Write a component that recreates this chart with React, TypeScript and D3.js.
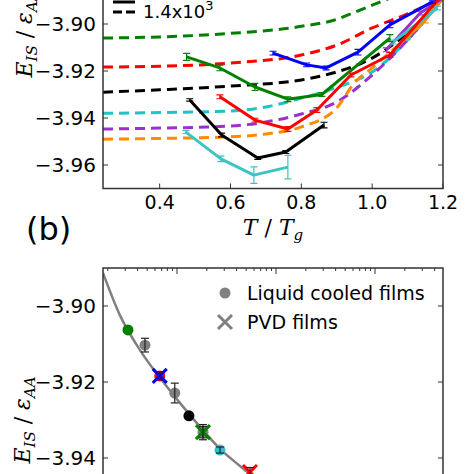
import React, { useEffect, useRef } from "react";
import * as d3 from "d3";

type Pt = [number, number];
type ErrPt = [number, number, number];

// panel (a): liquid-cooled films (dashed), T/Tg vs E_IS
const dashGreen: Pt[] = [[0.24, -3.906], [0.4, -3.9055], [0.6, -3.904], [0.8, -3.901], [0.9, -3.898], [0.95, -3.895], [1.0, -3.892], [1.1, -3.886], [1.2, -3.88]];
const dashRed: Pt[] = [[0.24, -3.9183], [0.4, -3.918], [0.6, -3.9166], [0.8, -3.9132], [0.9, -3.909], [1.0, -3.9017], [1.1, -3.8957], [1.2, -3.889]];
const dashBlack: Pt[] = [[0.24, -3.929], [0.4, -3.928], [0.6, -3.9264], [0.8, -3.9238], [0.9, -3.9204], [1.0, -3.9145], [1.1, -3.9038], [1.2, -3.889]];
const dashCyan: Pt[] = [[0.24, -3.938], [0.4, -3.9377], [0.6, -3.937], [0.7, -3.9353], [0.8, -3.9315], [0.9, -3.927], [1.0, -3.9204], [1.1, -3.9068], [1.2, -3.889]];
const dashPurple: Pt[] = [[0.24, -3.9447], [0.4, -3.9443], [0.6, -3.9434], [0.7, -3.9417], [0.8, -3.9383], [0.9, -3.9332], [1.0, -3.9217], [1.1, -3.9068], [1.2, -3.889]];
const dashOrange: Pt[] = [[0.24, -3.949], [0.4, -3.9487], [0.6, -3.948], [0.7, -3.9468], [0.8, -3.9438], [0.9, -3.9357], [0.95, -3.925], [1.0, -3.9187], [1.05, -3.912], [1.1, -3.9055], [1.15, -3.898], [1.2, -3.889]];

// panel (a): vapor-deposited films (solid, with error bars)
const pvdGreen: ErrPt[] = [[0.476, -3.914, 0.0015], [0.57, -3.9187, 0.0012], [0.669, -3.9268, 0.0015], [0.762, -3.932, 0.001], [0.858, -3.930, 0.0008], [1.05, -3.906, 0.0015]];
const pvdBlue: ErrPt[] = [[0.72, -3.9124, 0.0008], [0.815, -3.9174, 0.0008], [0.87, -3.9187, 0.0008], [0.96, -3.912, 0.0012], [1.05, -3.9004, 0.0012], [1.17, -3.8906, 0.0005]];
const pvdRed: ErrPt[] = [[0.57, -3.931, 0.0008], [0.669, -3.9409, 0.0008], [0.762, -3.9447, 0.001], [0.844, -3.9366, 0.001], [0.94, -3.9217, 0.0008], [1.05, -3.9132, 0.001], [1.19, -3.889, 0.0005]];
const pvdBlack: ErrPt[] = [[0.485, -3.9323, 0.0005], [0.575, -3.9472, 0.0008], [0.677, -3.957, 0.0006], [0.756, -3.9545, 0.0006], [0.864, -3.943, 0.0012]];
const pvdCyan: ErrPt[] = [[0.474, -3.946, 0.0006], [0.573, -3.9574, 0.0012], [0.666, -3.9643, 0.0035], [0.762, -3.9609, 0.005]];
const pvdCyanHigh: ErrPt[] = [[1.059, -3.9077, 0.0008], [1.184, -3.8932, 0.0008]];
const pvdPurple: ErrPt[] = [[1.04, -3.911, 0.0008], [1.136, -3.8953, 0.0008], [1.2, -3.889, 0.0005]];
const pvdOrange: ErrPt[] = [[1.1, -3.9055, 0.0012], [1.15, -3.8983, 0.0012], [1.2, -3.889, 0.0005]];

const dashedSeries: { data: Pt[]; color: string }[] = [
  { data: dashGreen, color: "#008000" },
  { data: dashRed, color: "#ff0000" },
  { data: dashBlack, color: "#000000" },
  { data: dashCyan, color: "#1fc4c4" },
  { data: dashPurple, color: "#9932cc" },
  { data: dashOrange, color: "#ff8c00" },
];
const solidSeries: { data: ErrPt[]; color: string }[] = [
  { data: pvdOrange, color: "#ff8c00" },
  { data: pvdPurple, color: "#9932cc" },
  { data: pvdCyanHigh, color: "#3cc4c4" },
  { data: pvdCyan, color: "#3cc4c4" },
  { data: pvdBlack, color: "#000000" },
  { data: pvdGreen, color: "#008000" },
  { data: pvdRed, color: "#ff0000" },
  { data: pvdBlue, color: "#0000ff" },
];

const xTicksA = [0.4, 0.6, 0.8, 1.0, 1.2];
const yTicksA = [-3.9, -3.92, -3.94, -3.96];
const yTicksB = [-3.9, -3.92, -3.94];

// panel (b): E_IS against (log) rate, fit curve and points
const fitCurve: Pt[] = [[1.79, -3.8913], [2.65, -3.9024], [4.23, -3.9116], [6.73, -3.9189], [10.7, -3.9255], [17.1, -3.9318], [27.2, -3.9376], [43.3, -3.9421], [68.9, -3.9463], [138, -3.952]];
const liquidPts: { x: number; y: number; err: number; color: string }[] = [
  { x: 3.2, y: -3.9063, err: 0, color: "#008000" },
  { x: 4.75, y: -3.9103, err: 0.0018, color: "#808080" },
  { x: 6.7, y: -3.9184, err: 0, color: "#ff0000" },
  { x: 9.5, y: -3.9229, err: 0.0026, color: "#808080" },
  { x: 13.2, y: -3.9289, err: 0, color: "#000000" },
  { x: 18.3, y: -3.9332, err: 0.002, color: "#808080" },
  { x: 27.2, y: -3.9379, err: 0.0008, color: "#2fc0c8" },
];
const pvdPts: { x: number; y: number; err: number; color: string }[] = [
  { x: 6.7, y: -3.9184, err: 0.001, color: "#0000ff" },
  { x: 18.3, y: -3.9332, err: 0.0015, color: "#008000" },
  { x: 54.6, y: -3.9437, err: 0.0012, color: "#ff0000" },
];
const legendB = ["Liquid cooled films", "PVD films"];

const SANS = "'DejaVu Sans', sans-serif";
const SERIF = "'DejaVu Serif', serif";

export default function App() {
  const ref = useRef<SVGSVGElement>(null);

  useEffect(() => {
    if (!ref.current) return;
    const svg = d3.select(ref.current);
    svg.selectAll("*").remove();

    const L = 103, R = 443;
    const spine = "#333";

    // ---------- panel (a)
    const xa = d3.scaleLinear().domain([0.24, 1.2]).range([L, R]);
    const ya = d3.scaleLinear().domain([-3.97, -3.84]).range([188.5, -117]);
    const topA = ya(-3.84), botA = ya(-3.97);

    const defs = svg.append("defs");
    defs.append("clipPath").attr("id", "clipA").append("rect")
      .attr("x", L).attr("y", topA).attr("width", R - L).attr("height", botA - topA);

    const gA = svg.append("g").attr("clip-path", "url(#clipA)");
    const lineA = d3.line<Pt>().x((d) => xa(d[0])).y((d) => ya(d[1])).curve(d3.curveMonotoneX);

    dashedSeries.forEach((s) => {
      gA.append("path").attr("d", lineA(s.data)).attr("fill", "none")
        .attr("stroke", s.color).attr("stroke-width", 3).attr("stroke-dasharray", "10,6");
    });

    const lineS = d3.line<ErrPt>().x((d) => xa(d[0])).y((d) => ya(d[1]));
    solidSeries.forEach((s) => {
      gA.append("path").attr("d", lineS(s.data)).attr("fill", "none")
        .attr("stroke", s.color).attr("stroke-width", 3).attr("stroke-linejoin", "round");
      s.data.forEach((d) => {
        const x = xa(d[0]), y1 = ya(d[1] - d[2]), y2 = ya(d[1] + d[2]);
        gA.append("line").attr("x1", x).attr("x2", x).attr("y1", y1).attr("y2", y2)
          .attr("stroke", s.color).attr("stroke-width", 1.2);
        [y1, y2].forEach((yy) =>
          gA.append("line").attr("x1", x - 3.5).attr("x2", x + 3.5).attr("y1", yy).attr("y2", yy)
            .attr("stroke", s.color).attr("stroke-width", 1.2));
      });
    });

    // legend (last visible entry)
    svg.append("line").attr("x1", 113).attr("x2", 135).attr("y1", 2).attr("y2", 2)
      .attr("stroke", "#000").attr("stroke-width", 3);
    svg.append("line").attr("x1", 113).attr("x2", 135).attr("y1", 12).attr("y2", 12)
      .attr("stroke", "#000").attr("stroke-width", 3).attr("stroke-dasharray", "9,4");
    const lt = svg.append("text").attr("x", 143).attr("y", 18)
      .style("font-family", SANS).style("font-size", "18px").text("1.4x10");
    lt.append("tspan").attr("dy", -8).style("font-size", "13px").text("3");

    // frame a
    svg.append("rect").attr("x", L).attr("y", topA).attr("width", R - L).attr("height", botA - topA)
      .attr("fill", "none").attr("stroke", spine).attr("stroke-width", 1.5);

    xTicksA.forEach((t) => {
      svg.append("line").attr("x1", xa(t)).attr("x2", xa(t)).attr("y1", botA).attr("y2", botA - 5)
        .attr("stroke", spine);
      svg.append("text").attr("x", xa(t)).attr("y", 209).attr("text-anchor", "middle")
        .style("font-family", SANS).style("font-size", "19px").text(d3.format(".1f")(t));
    });
    yTicksA.forEach((t) => {
      svg.append("line").attr("x1", L).attr("x2", L + 5).attr("y1", ya(t)).attr("y2", ya(t)).attr("stroke", spine);
      svg.append("line").attr("x1", R).attr("x2", R - 5).attr("y1", ya(t)).attr("y2", ya(t)).attr("stroke", spine);
      svg.append("text").attr("x", 96).attr("y", ya(t)).attr("dy", "0.36em").attr("text-anchor", "end")
        .style("font-family", SANS).style("font-size", "20px").text(d3.format(".2f")(t).replace("-", "\u2212"));
    });

    const yLabel = (cx: number, cy: number) => {
      const t = svg.append("text").attr("transform", `translate(${cx},${cy}) rotate(-90)`)
        .attr("text-anchor", "middle").style("font-family", SERIF).style("font-size", "22px");
      t.append("tspan").style("font-style", "italic").text("E");
      t.append("tspan").style("font-style", "italic").style("font-size", "15px").attr("dy", 5).text("IS");
      t.append("tspan").attr("dy", -5).text(" / ");
      t.append("tspan").style("font-style", "italic").text("\u03b5");
      t.append("tspan").style("font-style", "italic").style("font-size", "15px").attr("dy", 5).text("AA");
    };
    yLabel(32, 34);

    const xl = svg.append("text").attr("x", 273).attr("y", 235).attr("text-anchor", "middle")
      .style("font-family", SERIF).style("font-size", "22px");
    xl.append("tspan").style("font-style", "italic").text("T");
    xl.append("tspan").text(" / ");
    xl.append("tspan").style("font-style", "italic").text("T");
    xl.append("tspan").style("font-style", "italic").style("font-size", "15px").attr("dy", 5).text("g");

    svg.append("text").attr("x", 26).attr("y", 240).style("font-family", SANS)
      .style("font-size", "32px").text("(b)");

    // ---------- panel (b)
    const xb = d3.scaleLog().domain([1.79, 4860]).range([L, R]);
    const yb = d3.scaleLinear().domain([-3.98, -3.89]).range([610, 268]);
    const topB = yb(-3.89);

    defs.append("clipPath").attr("id", "clipB").append("rect")
      .attr("x", L).attr("y", topB).attr("width", R - L).attr("height", 400);
    const gB = svg.append("g").attr("clip-path", "url(#clipB)");

    const lineB = d3.line<Pt>().x((d) => xb(d[0])).y((d) => yb(d[1])).curve(d3.curveMonotoneX);
    gB.append("path").attr("d", lineB(fitCurve)).attr("fill", "none")
      .attr("stroke", "#808080").attr("stroke-width", 2.5);

    const errB = (x: number, y: number, e: number) => {
      if (!e) return;
      const y1 = yb(y - e), y2 = yb(y + e);
      gB.append("line").attr("x1", x).attr("x2", x).attr("y1", y1).attr("y2", y2).attr("stroke", "#222").attr("stroke-width", 1.2);
      [y1, y2].forEach((yy) =>
        gB.append("line").attr("x1", x - 4).attr("x2", x + 4).attr("y1", yy).attr("y2", yy).attr("stroke", "#222").attr("stroke-width", 1.2));
    };
    liquidPts.forEach((p) => {
      gB.append("circle").attr("cx", xb(p.x)).attr("cy", yb(p.y)).attr("r", 5.5).attr("fill", p.color);
      errB(xb(p.x), p.y, p.err);
    });
    const cross = (g: any, x: number, y: number, s: number, color: string) => {
      g.append("path").attr("d", `M${x - s},${y - s}L${x + s},${y + s}M${x - s},${y + s}L${x + s},${y - s}`)
        .attr("stroke", color).attr("stroke-width", 3).attr("fill", "none");
    };
    pvdPts.forEach((p) => {
      cross(gB, xb(p.x), yb(p.y), 7, p.color);
      errB(xb(p.x), p.y, p.err);
    });

    // legend b
    svg.append("circle").attr("cx", 225).attr("cy", 293).attr("r", 5.5).attr("fill", "#808080");
    cross(svg, 225, 322, 7, "#808080");
    legendB.forEach((t, i) =>
      svg.append("text").attr("x", 247).attr("y", 293 + i * 29).attr("dy", "0.36em")
        .style("font-family", SANS).style("font-size", "19px").text(t));

    // frame b
    svg.append("path").attr("d", `M${L},480V${topB}H${R}V480`).attr("fill", "none")
      .attr("stroke", spine).attr("stroke-width", 1.5);
    xb.ticks().forEach((t) => {
      const major = Math.abs(Math.log10(t) - Math.round(Math.log10(t))) < 1e-9;
      svg.append("line").attr("x1", xb(t)).attr("x2", xb(t)).attr("y1", topB).attr("y2", topB + (major ? 6 : 3))
        .attr("stroke", spine);
    });
    yTicksB.forEach((t) => {
      svg.append("line").attr("x1", L).attr("x2", L + 5).attr("y1", yb(t)).attr("y2", yb(t)).attr("stroke", spine);
      svg.append("line").attr("x1", R).attr("x2", R - 5).attr("y1", yb(t)).attr("y2", yb(t)).attr("stroke", spine);
      svg.append("text").attr("x", 96).attr("y", yb(t)).attr("dy", "0.36em").attr("text-anchor", "end")
        .style("font-family", SANS).style("font-size", "20px").text(d3.format(".2f")(t).replace("-", "\u2212"));
    });
    yLabel(30, 420);
  }, []);

  return (
    <svg ref={ref} width={474} height={474}
      style={{ position: "absolute", left: 0, top: 0, background: "#fff" }} />
  );
}
